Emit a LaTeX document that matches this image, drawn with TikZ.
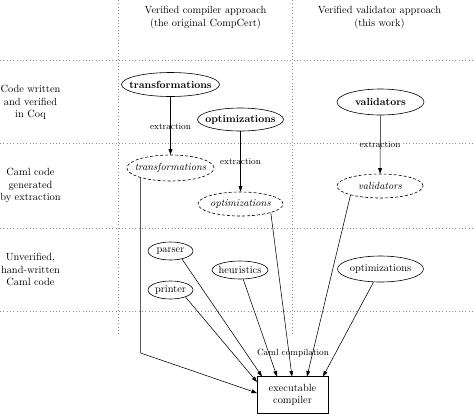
\documentclass[tikz,border=0pt]{standalone}
\usetikzlibrary{shapes.geometric,arrows.meta}
\newcommand\zw[1]{\makebox[0pt]{#1}}
\begin{document}
\begin{tikzpicture}[x=1pt,y=-1pt,
  every node/.style={font=\fontsize{10.4}{12.5}\selectfont},
  sep/.style={black!45, line width=0.5pt, dash pattern=on 0.6pt off 2.7pt},
  ell/.style={draw, ellipse, inner sep=0pt, line width=0.6pt},
  coq/.style={ell, font=\fontsize{10.4}{12.5}\selectfont\bfseries},
  ext/.style={ell, dash pattern=on 3pt off 2pt, font=\fontsize{10.4}{12.5}\selectfont\itshape},
  plain/.style={ell},
  edge/.style={line width=0.55pt, -{Triangle[length=5.5pt,width=3.8pt]}},
  lbl/.style={font=\fontsize{9}{11}\selectfont, inner sep=0pt},
  hdr/.style={align=center, inner sep=0pt}
]
\useasboundingbox (0,0) rectangle (474,413);

% separators
\draw[sep] (118,0) -- (118,335);
\draw[sep] (292,0) -- (292,335);
\foreach \yy in {60,143,228,311} \draw[sep] (0,\yy) -- (474,\yy);

% headers
\node[hdr] (h1) at (205.5,17.5) {Verified compiler approach\\(the original CompCert)};
\node[hdr] (h2) at (379.5,17.5) {Verified validator approach\\(this work)};
\node[hdr] (r1) at (30.5,102.5) {Code written\\and verified\\in Coq};
\node[hdr] (r2) at (30.5,185.5) {Caml code\\generated\\by extraction};
\node[hdr] (r3) at (30.5,269.5) {Unverified,\\hand-written\\Caml code};

% nodes
\node[coq, minimum width=98pt, minimum height=24pt] (tB) at (170.5,84.5) {\zw{transformations}};
\node[coq, minimum width=86pt, minimum height=23pt] (oB) at (240.5,119.5) {\zw{optimizations}};
\node[coq, minimum width=87pt, minimum height=26pt] (vB) at (380.5,102) {\zw{validators}};
\node[ext, minimum width=87pt, minimum height=26pt] (tD) at (170.5,168) {\zw{transformations}};
\node[ext, minimum width=85pt, minimum height=24pt] (oD) at (240.5,204) {\zw{optimizations}};
\node[ext, minimum width=86pt, minimum height=24pt] (vD) at (380,186) {\zw{validators}};
\node[plain, minimum width=45pt, minimum height=18pt] (parser) at (170.5,251) {\zw{parser}};
\node[plain, minimum width=56pt, minimum height=18pt] (heur) at (240,270) {\zw{heuristics}};
\node[plain, minimum width=45pt, minimum height=18pt] (printer) at (170.5,290) {\zw{printer}};
\node[plain, minimum width=86pt, minimum height=26pt] (optP) at (380.5,269) {\zw{optimizations}};
\node[draw, line width=0.6pt, align=center, minimum width=71pt, minimum height=37pt, inner sep=0pt] (exe) at (292.5,395) {executable\\compiler};

% extraction edges
\draw[edge] (tB) -- (tD);
\draw[edge] (oB) -- (oD);
\draw[edge] (vB) -- (vD);
\node[lbl] (x1) at (170.5,127) {extraction};
\node[lbl] (x2) at (240.5,162) {extraction};
\node[lbl] (x3) at (380,145) {extraction};

% compilation edges
\coordinate (a1) at (262,376.5);
\coordinate (a2) at (277,376.5);
\coordinate (a3) at (292,376.5);
\coordinate (a4) at (307,376.5);
\coordinate (a5) at (323,376.5);
\coordinate (l1) at (257,382);
\coordinate (l2) at (257,393);
\coordinate (tc) at (141,353);
\draw[edge] (parser.-35) -- (a1);
\draw[edge] (heur) -- (a2);
\draw[edge] (oD.-16) -- (a3);
\draw[edge] (vD.197) -- (a4);
\draw[edge] (optP) -- (a5);
\draw[edge] (printer.-25) -- (l1);
\draw[edge] (tD.198) -- (tD.198 |- tc) -- (l2);
\node[lbl] (cc) at (293,353) {Caml compilation};
\end{tikzpicture}
\end{document}
